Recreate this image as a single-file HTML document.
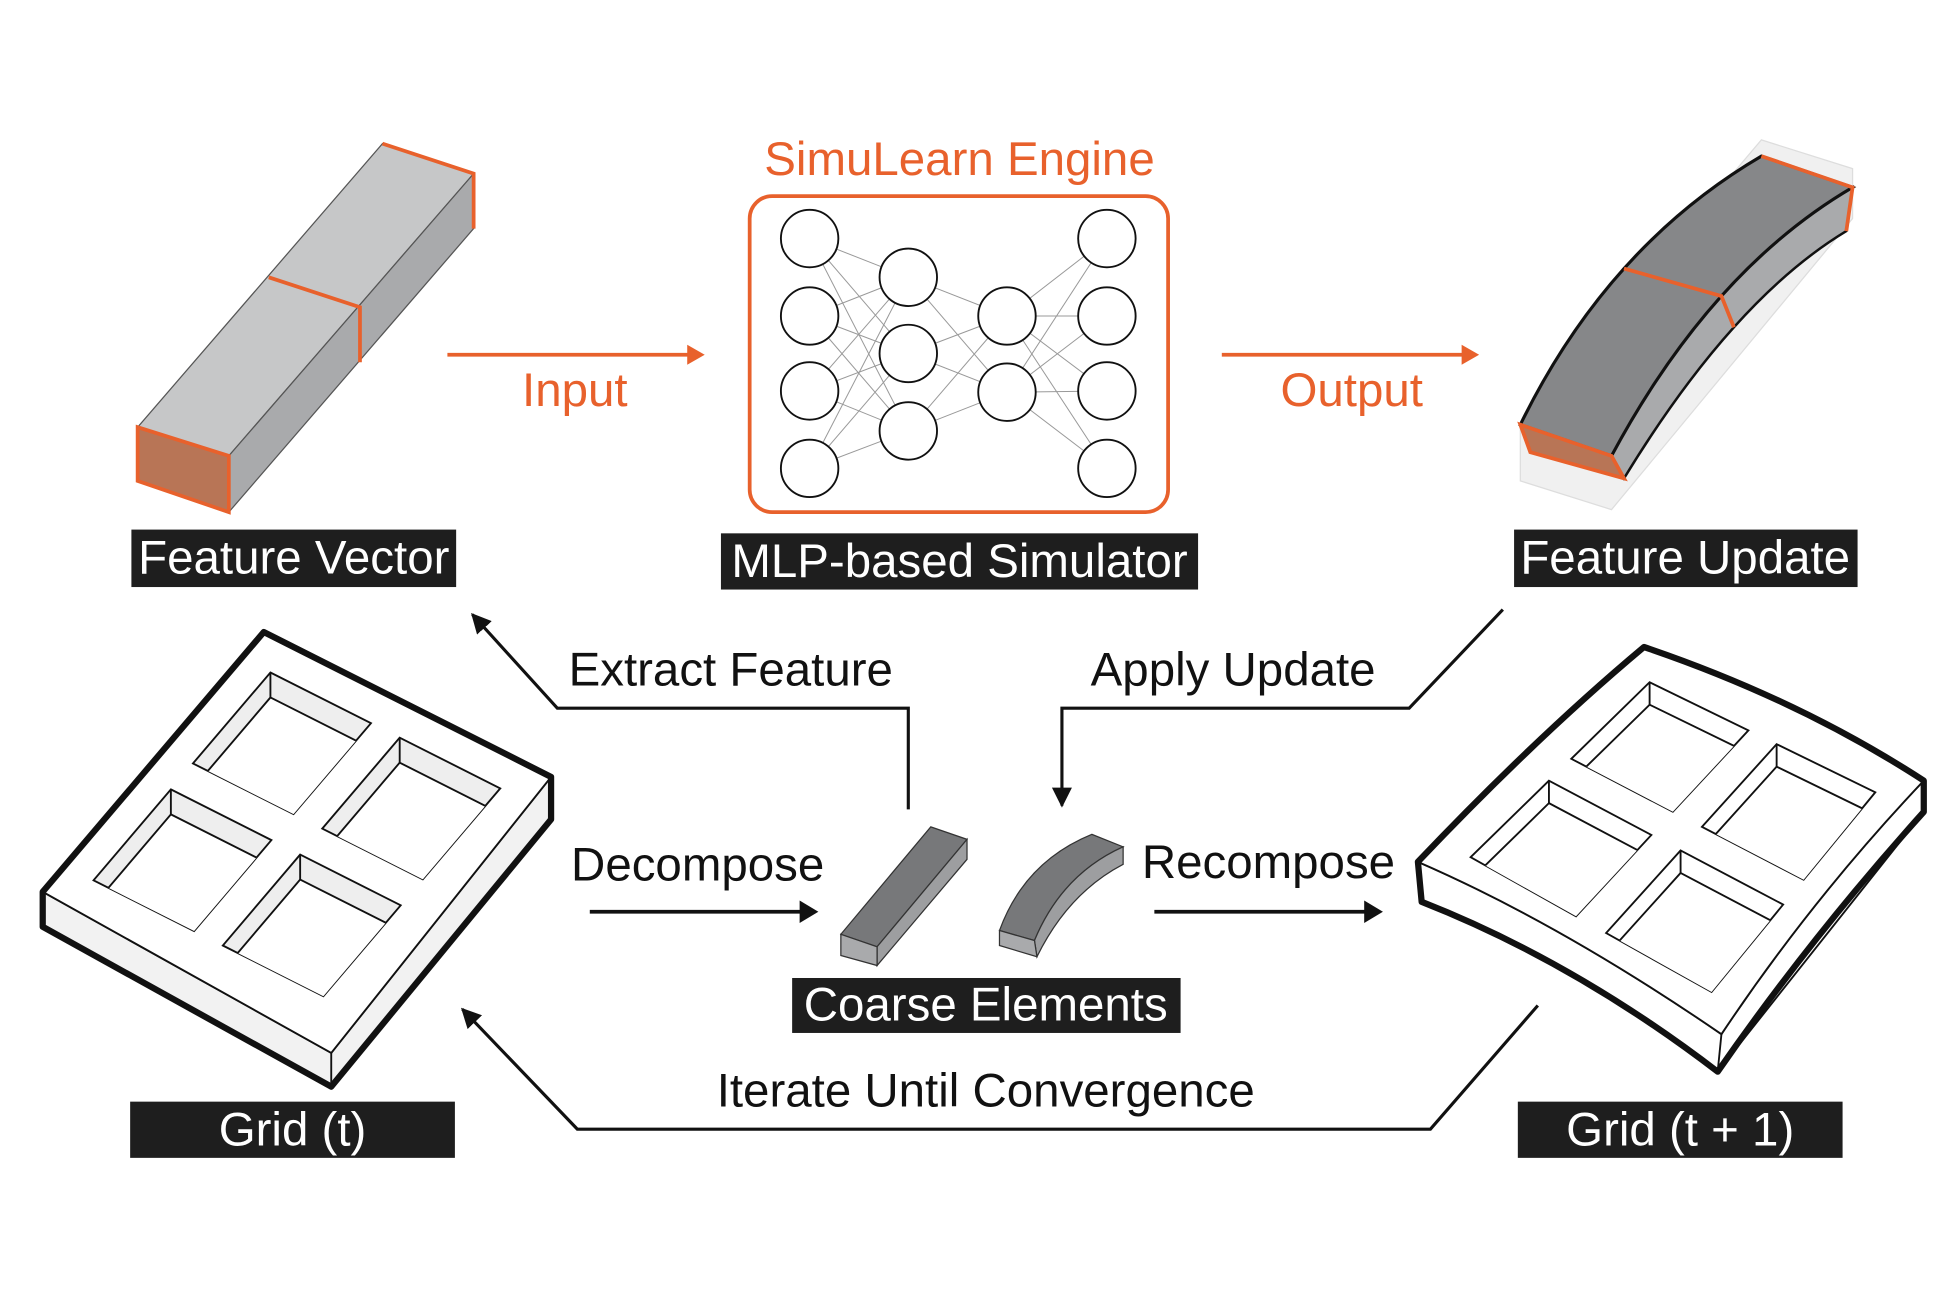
<!DOCTYPE html>
<html><head><meta charset="utf-8"><style>
html,body{margin:0;padding:0;background:#fff;}
svg{display:block;}
text{font-family:"Liberation Sans",Arial,sans-serif;}
</style></head><body>
<svg width="1949" height="1299" viewBox="0 0 1560 1040" xmlns="http://www.w3.org/2000/svg">
<defs>
<marker id="ab" viewBox="0 0 10 10" markerWidth="16" markerHeight="16" refX="9" refY="5" orient="auto" markerUnits="userSpaceOnUse"><path d="M0,0 L10,5 L0,10 Z" fill="#111"/></marker>
<clipPath id="c1"><polygon points="216.3,538.4 296.8,579 234.8,651.8 154.3,611.2"/></clipPath>
<clipPath id="c2"><polygon points="319.8,590.6 400.3,631.2 338.3,704 257.8,663.4"/></clipPath>
<clipPath id="c3"><polygon points="136.6,632 217.1,672.6 155.2,745.4 74.7,704.8"/></clipPath>
<clipPath id="c4"><polygon points="240.1,684.2 320.6,724.8 258.7,797.6 178.2,757"/></clipPath>
<clipPath id="d1"><polygon points="1320.5,546.2 1399.6,584.8 1339.1,649.9 1257.8,607.5"/></clipPath>
<clipPath id="d2"><polygon points="1422.2,595.8 1501.2,634.3 1443.8,704.3 1362.4,662"/></clipPath>
<clipPath id="d3"><polygon points="1239.9,625 1321.9,668.5 1261.6,733.6 1177.2,686.3"/></clipPath>
<clipPath id="d4"><polygon points="1345.3,680.9 1427.4,724.2 1370.1,794.2 1285.7,747"/></clipPath>
</defs>

<!-- Left bar -->
<polygon points="306,115 379,139 183,365 110,342" fill="#c6c7c8" stroke="#555" stroke-width="1"/>
<polygon points="379,139 379,183 183,410 183,365" fill="#a9aaac" stroke="#555" stroke-width="1"/>
<polygon points="110,342 183,365 183,410 110,385" fill="#b87556" stroke="#E8612C" stroke-width="3"/>
<polyline points="306,115 379,139 379,183" fill="none" stroke="#E8612C" stroke-width="3"/>
<polyline points="215,222 288,246 288,290" fill="none" stroke="#E8612C" stroke-width="3"/>

<!-- Arrows orange -->
<line x1="358" y1="284" x2="552" y2="284" stroke="#E8612C" stroke-width="3"/>
<path d="M550,276 L564,284 L550,292 Z" fill="#E8612C"/>
<line x1="978" y1="284" x2="1172" y2="284" stroke="#E8612C" stroke-width="3"/>
<path d="M1170,276 L1184,284 L1170,292 Z" fill="#E8612C"/>
<text x="460" y="325" font-size="38" fill="#E8612C" text-anchor="middle">Input</text>
<text x="1082" y="325" font-size="38" fill="#E8612C" text-anchor="middle">Output</text>

<!-- MLP -->
<text x="768" y="140" font-size="38" fill="#E8612C" text-anchor="middle">SimuLearn Engine</text>
<rect x="600" y="157" width="335" height="253" rx="18" fill="none" stroke="#E8612C" stroke-width="3"/>
<g stroke="#999" stroke-width="0.8">
<line x1="648" y1="191" x2="727" y2="222"/><line x1="648" y1="191" x2="727" y2="283"/><line x1="648" y1="191" x2="727" y2="345"/>
<line x1="648" y1="253" x2="727" y2="222"/><line x1="648" y1="253" x2="727" y2="283"/><line x1="648" y1="253" x2="727" y2="345"/>
<line x1="648" y1="313" x2="727" y2="222"/><line x1="648" y1="313" x2="727" y2="283"/><line x1="648" y1="313" x2="727" y2="345"/>
<line x1="648" y1="375" x2="727" y2="222"/><line x1="648" y1="375" x2="727" y2="283"/><line x1="648" y1="375" x2="727" y2="345"/>
<line x1="727" y1="222" x2="806" y2="253"/><line x1="727" y1="222" x2="806" y2="314"/>
<line x1="727" y1="283" x2="806" y2="253"/><line x1="727" y1="283" x2="806" y2="314"/>
<line x1="727" y1="345" x2="806" y2="253"/><line x1="727" y1="345" x2="806" y2="314"/>
<line x1="806" y1="253" x2="886" y2="191"/><line x1="806" y1="253" x2="886" y2="253"/><line x1="806" y1="253" x2="886" y2="313"/><line x1="806" y1="253" x2="886" y2="375"/>
<line x1="806" y1="314" x2="886" y2="191"/><line x1="806" y1="314" x2="886" y2="253"/><line x1="806" y1="314" x2="886" y2="313"/><line x1="806" y1="314" x2="886" y2="375"/>
</g>
<g fill="#fff" stroke="#111" stroke-width="1.5">
<circle cx="648" cy="191" r="23"/><circle cx="648" cy="253" r="23"/><circle cx="648" cy="313" r="23"/><circle cx="648" cy="375" r="23"/>
<circle cx="727" cy="222" r="23"/><circle cx="727" cy="283" r="23"/><circle cx="727" cy="345" r="23"/>
<circle cx="806" cy="253" r="23"/><circle cx="806" cy="314" r="23"/>
<circle cx="886" cy="191" r="23"/><circle cx="886" cy="253" r="23"/><circle cx="886" cy="313" r="23"/><circle cx="886" cy="375" r="23"/>
</g>

<!-- Right curved bar -->
<polygon points="1410,112 1483,135 1483,175 1290,408 1217,385 1217,340" fill="#f0f0f0" stroke="#ddd" stroke-width="1"/>
<path d="M1483,150 L1478,185 Q1387,240 1300,383 L1290,365 Q1369.5,216.5 1483,150 Z" fill="#a9aaac" stroke="#111" stroke-width="2"/>
<path d="M1410,125 Q1286.5,197.5 1217,340 L1290,365 Q1369.5,216.5 1483,150 Z" fill="#868789" stroke="#111" stroke-width="2.5"/>
<polygon points="1217,340 1290,365 1300,383 1225,362" fill="#b87556" stroke="#E8612C" stroke-width="3"/>
<polyline points="1410,125 1483,150 1478,185" fill="none" stroke="#E8612C" stroke-width="3"/>
<polyline points="1300,215 1378,237 1388,262" fill="none" stroke="#E8612C" stroke-width="3"/>

<!-- Labels top -->
<rect x="105" y="424" width="260" height="46" fill="#1e1e1e"/>
<text x="235" y="459" font-size="38" fill="#fff" text-anchor="middle">Feature Vector</text>
<rect x="577" y="427" width="382" height="45" fill="#1e1e1e"/>
<text x="768" y="462" font-size="38" fill="#fff" text-anchor="middle">MLP-based Simulator</text>
<rect x="1212" y="424" width="275" height="46" fill="#1e1e1e"/>
<text x="1349" y="459" font-size="38" fill="#fff" text-anchor="middle">Feature Update</text>

<!-- Extract / Apply -->
<polyline points="727,648 727,567 446,567 378,492" fill="none" stroke="#111" stroke-width="2.5" marker-end="url(#ab)"/>
<text x="455" y="549" font-size="38" fill="#111">Extract Feature</text>
<polyline points="1203,488 1128,567 850,567 850,645" fill="none" stroke="#111" stroke-width="2.5" marker-end="url(#ab)"/>
<text x="873" y="549" font-size="38" fill="#111">Apply Update</text>

<!-- Grid t -->
<polygon points="34,714 34,742 265,870 441,656 441,622 265,843" fill="#f2f2f2" stroke="#111" stroke-width="1.5"/>
<polygon points="211,506 441,622 265,843 34,714" fill="#fff" stroke="#111" stroke-width="1.5"/>
<polygon points="211,506 441,622 441,656 265,870 34,742 34,714" fill="none" stroke="#111" stroke-width="5" stroke-linejoin="round"/>
<line x1="265" y1="843" x2="265" y2="870" stroke="#111" stroke-width="1.5"/>
<g stroke="#111" stroke-width="1.5">
<polygon points="216.3,538.4 296.8,579 234.8,651.8 154.3,611.2" fill="#eee"/>
<polygon clip-path="url(#c1)" points="216.3,558.4 296.8,599 234.8,671.8 154.3,631.2" fill="#fff"/>
<line x1="216.3" y1="538.4" x2="216.3" y2="558.4"/>
<polygon points="319.8,590.6 400.3,631.2 338.3,704 257.8,663.4" fill="#eee"/>
<polygon clip-path="url(#c2)" points="319.8,610.6 400.3,651.2 338.3,724 257.8,683.4" fill="#fff"/>
<line x1="319.8" y1="590.6" x2="319.8" y2="610.6"/>
<polygon points="136.6,632 217.1,672.6 155.2,745.4 74.7,704.8" fill="#eee"/>
<polygon clip-path="url(#c3)" points="136.6,652 217.1,692.6 155.2,765.4 74.7,724.8" fill="#fff"/>
<line x1="136.6" y1="632" x2="136.6" y2="652"/>
<polygon points="240.1,684.2 320.6,724.8 258.7,797.6 178.2,757" fill="#eee"/>
<polygon clip-path="url(#c4)" points="240.1,704.2 320.6,744.8 258.7,817.6 178.2,777" fill="#fff"/>
<line x1="240.1" y1="684.2" x2="240.1" y2="704.2"/>
</g>

<!-- Decompose / Recompose -->
<text x="457" y="705" font-size="38" fill="#111">Decompose</text>
<line x1="472" y1="730" x2="645" y2="730" stroke="#111" stroke-width="3"/>
<path d="M640,721 L655,730 L640,739 Z" fill="#111"/>
<text x="914" y="703" font-size="38" fill="#111">Recompose</text>
<line x1="924" y1="730" x2="1097" y2="730" stroke="#111" stroke-width="3"/>
<path d="M1092,721 L1107,730 L1092,739 Z" fill="#111"/>

<!-- Coarse elements -->
<polygon points="745,662 774,672 702,758 673,748" fill="#77787a" stroke="#333" stroke-width="1"/>
<polygon points="774,672 774,688 702,773 702,758" fill="#9d9ea0" stroke="#333" stroke-width="1"/>
<polygon points="673,748 702,758 702,773 673,765" fill="#a9aaac" stroke="#333" stroke-width="1"/>
<path d="M874,668 L899,678 Q850,700 828,753 L800,745 Q820,690 874,668 Z" fill="#77787a" stroke="#333" stroke-width="1"/>
<path d="M899,678 L899,692 Q855,715 830,766 L828,753 Q850,700 899,678 Z" fill="#9d9ea0" stroke="#333" stroke-width="1"/>
<polygon points="800,745 828,753 830,766 800,757" fill="#a9aaac" stroke="#333" stroke-width="1"/>
<rect x="634" y="783" width="311" height="44" fill="#1e1e1e"/>
<text x="789" y="817" font-size="38" fill="#fff" text-anchor="middle">Coarse Elements</text>

<!-- Grid t+1 -->
<path d="M1135,690 L1138,722 Q1260,770 1375,858 L1540,650 L1540,625 Q1450,720 1378,828 Q1250,740 1135,690 Z" fill="#fff" stroke="#111" stroke-width="1.5"/>
<path d="M1316,518 Q1440,560 1540,625 Q1450,720 1378,828 Q1250,740 1135,690 Q1230,590 1316,518 Z" fill="#fff" stroke="#111" stroke-width="1.5"/>
<path d="M1316,518 Q1440,560 1540,625 L1540,650 Q1450,750 1375,858 Q1260,770 1138,722 L1135,690 Q1230,590 1316,518 Z" fill="none" stroke="#111" stroke-width="5" stroke-linejoin="round"/>
<line x1="1378" y1="828" x2="1375" y2="858" stroke="#111" stroke-width="1.5"/>
<g stroke="#111" stroke-width="1.5">
<polygon points="1320.5,546.2 1399.6,584.8 1339.1,649.9 1257.8,607.5" fill="#fff"/>
<polygon clip-path="url(#d1)" points="1320.5,564.2 1399.6,602.8 1339.1,667.9 1257.8,625.5" fill="#fff"/>
<line x1="1320.5" y1="546.2" x2="1320.5" y2="564.2"/>
<polygon points="1422.2,595.8 1501.2,634.3 1443.8,704.3 1362.4,662" fill="#fff"/>
<polygon clip-path="url(#d2)" points="1422.2,613.8 1501.2,652.3 1443.8,722.3 1362.4,680" fill="#fff"/>
<line x1="1422.2" y1="595.8" x2="1422.2" y2="613.8"/>
<polygon points="1239.9,625 1321.9,668.5 1261.6,733.6 1177.2,686.3" fill="#fff"/>
<polygon clip-path="url(#d3)" points="1239.9,643 1321.9,686.5 1261.6,751.6 1177.2,704.3" fill="#fff"/>
<line x1="1239.9" y1="625" x2="1239.9" y2="643"/>
<polygon points="1345.3,680.9 1427.4,724.2 1370.1,794.2 1285.7,747" fill="#fff"/>
<polygon clip-path="url(#d4)" points="1345.3,698.9 1427.4,742.2 1370.1,812.2 1285.7,765" fill="#fff"/>
<line x1="1345.3" y1="680.9" x2="1345.3" y2="698.9"/>
</g>

<!-- Iterate -->
<polyline points="1231,805 1145,904 462,904 370,808" fill="none" stroke="#111" stroke-width="2.5" marker-end="url(#ab)"/>
<text x="789" y="886" font-size="38" fill="#111" text-anchor="middle">Iterate Until Convergence</text>

<rect x="104" y="882" width="260" height="45" fill="#1e1e1e"/>
<text x="234" y="917" font-size="38" fill="#fff" text-anchor="middle">Grid (t)</text>
<rect x="1215" y="882" width="260" height="45" fill="#1e1e1e"/>
<text x="1345" y="917" font-size="38" fill="#fff" text-anchor="middle">Grid (t + 1)</text>
</svg>
</body></html>
